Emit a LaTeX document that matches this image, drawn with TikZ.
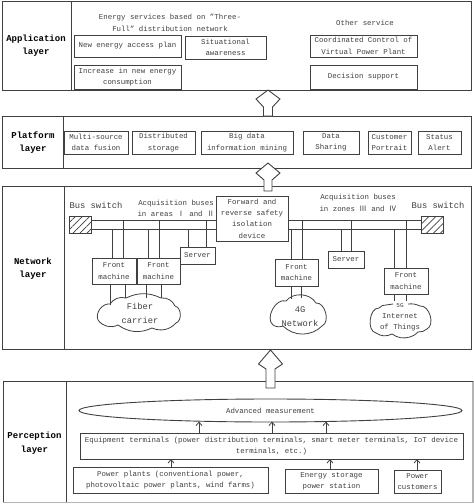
\documentclass[tikz,border=0pt]{standalone}
\usepackage{fontspec}
\setmainfont{Liberation Mono}
\newfontfamily\cjkrn{Noto Sans CJK SC}
\usetikzlibrary{arrows.meta,patterns.meta,shapes.geometric}
\definecolor{ink}{HTML}{404040}
\definecolor{edge}{HTML}{B4B4B4}
\tikzset{
  x=1pt,y=-1pt,
  layer/.style={draw=ink,line width=.9pt,fill=white},
  divider/.style={draw=ink,line width=.9pt},
  boxed/.style={draw=ink,line width=.9pt,fill=white},
  lbl/.style={font=\fontsize{7.4}{11.3}\selectfont,text=ink,align=center,inner sep=0pt},
  cloudlbl/.style={lbl,font=\fontsize{8.7}{13.7}\selectfont},
  title/.style={font=\fontsize{9}{13.5}\selectfont\bfseries,text=black,align=center,inner sep=0pt},
  sw/.style={font=\fontsize{8.8}{10}\selectfont,text=ink,inner sep=0pt},
  wire/.style={draw=ink,line width=.8pt},
  up/.style={draw=ink,line width=.8pt,-{Straight Barb[length=3.5pt,width=6pt]}},
  bigarrow/.style={draw=ink,line width=.9pt,fill=white,line join=miter},
  cloudy/.style={draw=ink,line width=.8pt,fill=white},
  hatchbox/.style={draw=ink,line width=.9pt,pattern={Lines[angle=45,distance=5pt,line width=.7pt]},pattern color=ink}
}
\newcommand{\rn}[1]{{\cjkrn #1}}
\newcommand{\bx}[6]{% name, x1,y1,x2,y2,text
  \node[boxed,minimum width=#4pt-#2pt,minimum height=#5pt-#3pt,inner sep=0pt] (#1) at ({(#2+#4)/2},{(#3+#5)/2}) {};
  \node[lbl] (#1t) at (#1) {#6};
}
\newcommand{\bigup}[7]{% tip x, tip y, half head, wide y, back y, half shaft, bottom
  \draw[bigarrow] (#1,#2) -- (#1+#3,#4) -- (#1+#6,#5) -- (#1+#6,#7) -- (#1-#6,#7) -- (#1-#6,#5) -- (#1-#3,#4) -- cycle;
}
\begin{document}
\begin{tikzpicture}
\useasboundingbox (0,0) rectangle (474,504);
\fill[white] (0,0) rectangle (474,504);
% layers
\draw[layer] (2,1) rectangle (471,90);
\draw[divider] (71,1) -- (71,90);
\draw[layer] (2,116) rectangle (471,168);
\draw[divider] (63,116) -- (63,168);
\draw[layer] (2,186) rectangle (471.5,349);
\draw[divider] (64,186) -- (64,349);
\draw[draw=edge,line width=1.6pt] (473,381) -- (473,502.5) -- (3,502.5);
\draw[draw=ink,line width=.9pt] (473,381) -- (3,381) -- (3,502);
\draw[divider] (66,381) -- (66,502);
\node[title] (tapp) at (36,45.5) {Application\\layer};
\node[title] (tpla) at (33,142.5) {Platform\\layer};
\node[title] (tnet) at (33,268.5) {Network\\layer};
\node[title] (tper) at (34.5,443) {Perception\\layer};
% application
\node[lbl] (es) at (170,22.8) {Energy services based on "Three-\\Full" distribution network};
\node[lbl] (os) at (365,22.7) {Other service};
\bx{a1}{74}{35}{181}{57}{New energy access plan}
\bx{a2}{185}{36}{266}{59}{Situational\\awareness}
\bx{a3}{74}{65}{181}{89}{Increase in new energy\\consumption}
\bx{a4}{310}{35}{417}{57}{Coordinated Control of\\Virtual Power Plant}
\bx{a5}{310}{65}{417}{89}{Decision support}
% platform
\bx{p1}{64}{131}{128}{154}{Multi-source\\data fusion}
\bx{p2}{132}{131}{195}{154}{Distributed\\storage}
\bx{p3}{201}{131}{293}{154}{Big data\\information mining}
\bx{p4}{303}{131}{359}{154}{Data\\Sharing}
\bx{p5}{368}{131}{411}{154}{Customer\\Portrait}
\bx{p6}{418}{131}{461}{154}{Status\\Alert}
% big arrows
\bigup{268}{90}{12}{99}{107}{4.5}{116}
\bigup{268}{163}{12}{173}{180}{4}{191}
\bigup{270.5}{350}{12}{364}{369}{4.5}{388}
% network: clouds first
\draw[cloudy] (98,320) to[bend left=60] (110,304) to[bend left=35] (126,298) to[bend left=25] (161,298) to[bend left=35] (175,306) to[bend left=75] (176,323) to[bend left=35] (152,328) to[bend left=30] (118,325) to[bend left=40] (98,320) -- cycle;
\draw[cloudy] (273,325) to[bend left=80] (286,301) to[bend left=55] (316,303) to[bend left=80] (322,326) to[bend left=45] (283,326) to[bend left=25] (273,325) -- cycle;
\fill[white] (369,303) rectangle (431,339);
\draw[cloudy] (376,333) to[bend left=85] (379,308) to[bend left=25] (386,305) to[bend left=10] (393,304);
\draw[cloudy] (408,304) to[bend left=15] (420,306) to[bend left=80] (427,329) to[bend left=20] (418,332);
\draw[cloudy] (376,333) to[bend right=30] (392,334) to[bend right=25] (410,337) to[bend right=15] (418,332);
\node[cloudlbl] (c1t) at (140,313.7) {Fiber\\carrier};
\node[cloudlbl] (c2t) at (300,316.7) {4G\\Network};
\node[lbl] (c3t) at (400,322.5) {Internet\\of Things};
\node[lbl,font=\fontsize{6}{6}\selectfont] (c3g) at (400,306) {5G};
% switches and device
\bx{dev}{216}{196}{288}{241}{Forward and\\reverse safety\\isolation\\device}
\node[hatchbox,minimum width=22pt,minimum height=17pt,inner sep=0pt] (swl) at (80,224.5) {};
\node[hatchbox,minimum width=22pt,minimum height=17pt,inner sep=0pt] (swr) at (432,224.5) {};
\node[sw] (swlt) at (96,205) {Bus switch};
\node[sw] (swrt) at (438,205) {Bus switch};
\node[lbl] (ac1) at (176,208.2) {Acquisition buses\\in areas \rn{Ⅰ} and \rn{Ⅱ}};
\node[lbl] (ac2) at (358,202.8) {Acquisition buses\\in zones \rn{Ⅲ} and \rn{Ⅳ}};
% buses
\coordinate (bl1) at (swl.east |- 0,220);
\coordinate (bl2) at (swl.east |- 0,229);
\coordinate (br1) at (swr.west |- 0,220);
\coordinate (br2) at (swr.west |- 0,229);
\draw[wire] (bl1) -- (bl1 -| dev.west);
\draw[wire] (bl2) -- (bl2 -| dev.west);
\draw[wire] (br1) -- (br1 -| dev.east);
\draw[wire] (br2) -- (br2 -| dev.east);
% front machines
\bx{f1}{92}{258}{136}{284}{Front\\machine}
\bx{f2}{137}{258}{180}{284}{Front\\machine}
\bx{s1}{180}{247}{215}{264}{Server}
\bx{f3}{275}{259}{318}{286}{Front\\machine}
\bx{s2}{328}{251}{364}{268}{Server}
\bx{f4}{384}{268}{428}{294}{Front\\machine}
\foreach \n/\xa/\ya/\t in {v1/112/229/f1,v2/123/220/f1,v3/148/229/f2,v4/159/220/f2,v5/188/229/s1,v6/206/220/s1,v7/291/229/f3,v8/302/220/f3,v9/341/229/s2,v10/351/220/s2,v11/394/229/f4,v12/406/220/f4}{
  \coordinate (\n) at (\xa,\ya);
  \draw[wire] (\n) -- (\n |- \t.north);
}
\foreach \n/\xa/\ya/\t in {w1/110/305/f1,w2/125/298/f1,w3/146/298/f2,w4/161/298/f2,w5/291/299/f3,w6/301/298/f3,w7/394/301/f4,w8/406/301/f4}{
  \coordinate (\n) at (\xa,\ya);
  \draw[wire] (\n) -- (\n |- \t.south);
}
% perception
\node[ellipse,draw=ink,line width=.9pt,fill=white,minimum width=383pt,minimum height=23pt,inner sep=0pt] (adv) at (270.5,410.5) {};
\node[lbl] (advt) at (adv) {Advanced measurement};
\bx{eq}{80}{433}{463}{459}{Equipment terminals (power distribution terminals, smart meter terminals, IoT device\\terminals, etc.)}
\bx{b1}{73}{467}{268}{493}{Power plants (conventional power,\\photovoltaic power plants, wind farms)}
\bx{b2}{285}{469}{378}{493}{Energy storage\\power station}
\bx{b3}{394}{470}{441}{493}{Power\\customers}
\foreach \xa in {199,272,326}{
  \draw[up] (\xa,433) -- (\xa,421.5);
}
\draw[up] (171,467) -- (171,459);
\draw[up] (330,469) -- (330,459);
\draw[up] (417,470) -- (417,459);
\end{tikzpicture}
\end{document}
